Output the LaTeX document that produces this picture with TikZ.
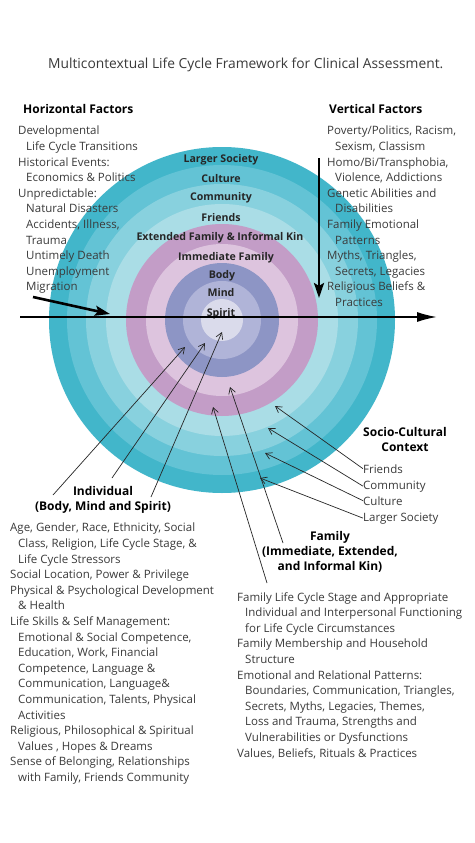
\documentclass[tikz,border=0pt]{standalone}
\usepackage{fontspec}
\setmainfont{Open Sans}
\usetikzlibrary{positioning,arrows.meta}
\definecolor{ringA}{HTML}{42B6CA}
\definecolor{ringB}{HTML}{63C3D5}
\definecolor{ringC}{HTML}{88D1DE}
\definecolor{ringD}{HTML}{AADDE6}
\definecolor{ringE}{HTML}{C39DC7}
\definecolor{ringF}{HTML}{DDC4DE}
\definecolor{ringG}{HTML}{8D95C5}
\definecolor{ringH}{HTML}{B0B4D8}
\definecolor{ringI}{HTML}{DADBEB}
\definecolor{txt}{HTML}{3A3A3A}
\newcommand{\indt}{\hspace*{8pt}}

\begin{document}
\begin{tikzpicture}[x=1pt, y=-1pt,
  ring/.style={font=\fontsize{10.6}{12}\selectfont\bfseries, text=black!85, inner sep=0pt, anchor=base},
  head/.style={font=\fontsize{12}{15}\selectfont\bfseries, inner sep=0pt, align=center},
  items/.style={font=\fontsize{11.5}{15.6}\selectfont, text=txt, inner sep=0pt, align=left, anchor=north west},
  pointer/.style={-{Straight Barb[length=6pt,width=7pt]}, line width=0.7pt, black!85},
  heavy/.style={line width=2.6pt, -{Stealth[length=15pt,width=10pt,inset=3pt]}},
  axis/.style={line width=1.6pt, -{Latex[length=20pt,width=10pt]}}
]
\fill[white] (0,0) rectangle (474,843);
\useasboundingbox (0,0) rectangle (474,843);

\coordinate (ctr) at (222,320);
\foreach \r/\c in {173/ringA,155/ringB,136/ringC,116/ringD,96/ringE,76/ringF,57/ringG,39/ringH,21/ringI}
  \fill[\c] (ctr) circle[radius=\r pt];

\node[ring] (lsoc) at (221,162) {Larger Society};
\node[ring] (cult) at (221,182) {Culture};
\node[ring] (comm) at (221,200) {Community};
\node[ring] (frnd) at (221,221) {Friends};
\node[ring] (ext)  at (220,240) {Extended Family \& Informal Kin};
\node[ring] (imm)  at (226,260) {Immediate Family};
\node[ring] (body) at (222,278) {Body};
\node[ring] (mind) at (221,296) {Mind};
\node[ring] (spir) at (221,316) {Spirit};

\node[font=\fontsize{13.8}{16}\selectfont, text=txt, inner sep=0pt, anchor=base west] (title) at (48,68)
  {Multicontextual Life Cycle Framework for Clinical Assessment.};

\node[head, anchor=base west] (hfac) at (23,113) {Horizontal Factors};
\node[items] (hlist) at (18,126) {Developmental\\\indt Life Cycle Transitions\\Historical Events:\\\indt Economics \& Politics\\Unpredictable:\\\indt Natural Disasters\\\indt Accidents, Illness,\\\indt Trauma\\\indt Untimely Death\\\indt Unemployment\\\indt Migration};

\node[head, anchor=base west] (vfac) at (329,113) {Vertical Factors};
\node[items] (vlist) at (327,126) {Poverty/Politics, Racism,\\\indt Sexism, Classism\\Homo/Bi/Transphobia,\\\indt Violence, Addictions\\Genetic Abilities and\\\indt Disabilities\\Family Emotional\\\indt Patterns\\Myths, Triangles,\\\indt Secrets, Legacies\\Religious Beliefs \&\\\indt Practices};

\coordinate (hz0) at (20,317);
\coordinate (hz1) at (437,317);
\draw[axis] (hz0) -- (hz1);
\coordinate (dg0) at (33,297);
\coordinate (dg1) at (110,314);
\draw[heavy] (dg0) -- (dg1);
\coordinate (vt0) at (319,158);
\coordinate (vt1) at (319,298);
\draw[heavy] (vt0) -- (vt1);

\node[head, anchor=north] (soc) at (405,427) {Socio-Cultural\\Context};
\node[items, anchor=base west] (sfr) at (363,473) {Friends};
\node[items, anchor=base west] (sco) at (363,489) {Community};
\node[items, anchor=base west] (scu) at (363,505) {Culture};
\node[items, anchor=base west] (sls) at (363,521) {Larger Society};
\coordinate (tfr) at (275,406);
\coordinate (tco) at (268,428);
\coordinate (tcu) at (265,453);
\coordinate (tls) at (260,478);
\draw[pointer] (sfr.west) -- (tfr);
\draw[pointer] (sco.west) -- (tco);
\draw[pointer] (scu.west) -- (tcu);
\draw[pointer] (sls.west) -- (tls);

\node[head, anchor=north] (indv) at (103,486) {Individual\\(Body, Mind and Spirit)};
\coordinate (ib0) at (53,495);
\coordinate (im0) at (112,478);
\coordinate (is0) at (151,497);
\coordinate (ib1) at (185,347);
\coordinate (im1) at (205,343);
\coordinate (is1) at (222,332);
\draw[pointer] (ib0) -- (ib1);
\draw[pointer] (im0) -- (im1);
\draw[pointer] (is0) -- (is1);

\node[items] (ilist) at (10,523) {Age, Gender, Race, Ethnicity, Social\\\indt Class, Religion, Life Cycle Stage, \&\\\indt Life Cycle Stressors\\Social Location, Power \& Privilege\\Physical \& Psychological Development\\\indt \& Health\\Life Skills \& Self Management:\\\indt Emotional \& Social Competence,\\\indt Education, Work, Financial\\\indt Competence, Language \&\\\indt Communication, Language\&\\\indt Communication, Talents, Physical\\\indt Activities\\Religious, Philosophical \& Spiritual\\\indt Values , Hopes \& Dreams\\Sense of Belonging, Relationships\\\indt with Family, Friends Community};

\node[head, anchor=north] (fam) at (330,531) {Family\\(Immediate, Extended,\\and Informal Kin)};
\coordinate (fi0) at (283,543);
\coordinate (fe0) at (267,583);
\coordinate (fi1) at (230,387);
\coordinate (fe1) at (213,407);
\draw[pointer] (fi0) -- (fi1);
\draw[pointer] (fe0) -- (fe1);

\node[items] (flist) at (237,592) {Family Life Cycle Stage and Appropriate\\\indt Individual and Interpersonal Functioning\\\indt for Life Cycle Circumstances\\Family Membership and Household\\\indt Structure\\Emotional and Relational Patterns:\\\indt Boundaries, Communication, Triangles,\\\indt Secrets, Myths, Legacies, Themes,\\\indt Loss and Trauma, Strengths and\\\indt Vulnerabilities or Dysfunctions\\Values, Beliefs, Rituals \& Practices};
\end{tikzpicture}
\end{document}
